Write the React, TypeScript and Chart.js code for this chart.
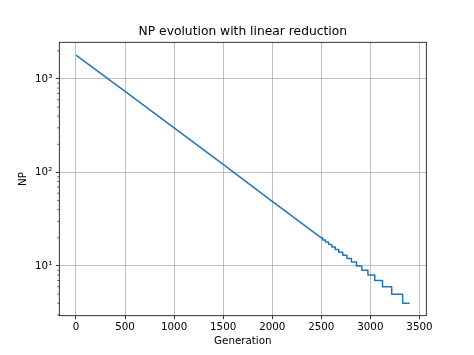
import React, { useEffect, useRef } from 'react';
import { Chart, registerables } from 'chart.js';

Chart.register(...registerables);

// Values
const smoothGenerations = [0, 500, 1000, 1500, 2000, 2500];
const smoothNP = [1800, 735, 300, 122, 49, 20];
const stepGenerations = [2514, 2543, 2574, 2607, 2642, 2678, 2718, 2761, 2807, 2858, 2913, 2975, 3045, 3124, 3217, 3329];
const stepNP = [19, 18, 17, 16, 15, 14, 13, 12, 11, 10, 9, 8, 7, 6, 5, 4];
const finalGeneration = 3400;

const xTickValues = [0, 500, 1000, 1500, 2000, 2500, 3000, 3500];
const yMajorTicks = [10, 100, 1000];
const yTickLabels = ['10¹', '10²', '10³'];
const yMinorTicks = [3, 4, 5, 6, 7, 8, 9, 20, 30, 40, 50, 60, 70, 80, 90, 200, 300, 400, 500, 600, 700, 800, 900, 2000];

const titleText = 'NP evolution with linear reduction';
const xTitle = 'Generation';
const yTitle = 'NP';

const FONT = '"DejaVu Sans", sans-serif';

export default function App() {
  const ref = useRef<HTMLCanvasElement | null>(null);

  useEffect(() => {
    document.body.style.margin = '0';
    const canvas = ref.current;
    if (!canvas) return;

    const points: { x: number; y: number }[] = smoothGenerations.map((g, i) => ({ x: g, y: smoothNP[i] }));
    let prev = smoothNP[smoothNP.length - 1];
    stepGenerations.forEach((g, i) => {
      points.push({ x: g, y: prev });
      points.push({ x: g, y: stepNP[i] });
      prev = stepNP[i];
    });
    points.push({ x: finalGeneration, y: prev });

    const framePlugin = {
      id: 'framePlugin',
      afterDraw(chart: any) {
        const { ctx, chartArea: a } = chart;
        const ys = chart.scales.y;
        ctx.save();
        // minor ticks
        ctx.strokeStyle = '#000';
        ctx.lineWidth = 0.6;
        yMinorTicks.forEach((v) => {
          const py = ys.getPixelForValue(v);
          if (py < a.top || py > a.bottom) return;
          ctx.beginPath();
          ctx.moveTo(a.left - 2, py);
          ctx.lineTo(a.left, py);
          ctx.stroke();
        });
        // frame
        ctx.lineWidth = 0.8;
        ctx.strokeRect(a.left, a.top, a.right - a.left, a.bottom - a.top);
        // texts
        ctx.fillStyle = '#000';
        ctx.textAlign = 'center';
        ctx.textBaseline = 'middle';
        ctx.font = `12.3px ${FONT}`;
        ctx.fillText(titleText, (a.left + a.right) / 2, 32.3);
        ctx.font = `10.3px ${FONT}`;
        ctx.fillText(xTitle, (a.left + a.right) / 2, 341.7);
        ctx.translate(23.3, (a.top + a.bottom) / 2);
        ctx.rotate(-Math.PI / 2);
        ctx.fillText(yTitle, 0, 0);
        ctx.restore();
      },
    };

    const chart = new Chart(canvas, {
      type: 'line',
      data: {
        datasets: [
          {
            data: points,
            borderColor: '#1f77b4',
            borderWidth: 1.5,
            pointRadius: 0,
            fill: false,
            tension: 0,
            borderJoinStyle: 'round',
          },
        ],
      },
      options: {
        animation: false,
        responsive: false,
        devicePixelRatio: 1,
        layout: { padding: { left: 0, top: 42.3, right: 47.7, bottom: 0 } },
        plugins: {
          legend: { display: false },
          tooltip: { enabled: false },
          title: { display: false },
        },
        scales: {
          x: {
            type: 'linear',
            min: -170,
            max: 3570,
            afterBuildTicks: (scale: any) => {
              scale.ticks = xTickValues.map((v) => ({ value: v }));
            },
            afterFit: (scale: any) => {
              scale.height = 39.3;
            },
            ticks: {
              color: '#000',
              font: { family: FONT, size: 10.3 },
              padding: 2,
              maxRotation: 0,
              autoSkip: false,
              callback: (v: any) => String(v),
            },
            grid: {
              color: '#b0b0b0',
              lineWidth: 0.8,
              tickColor: '#000',
              tickLength: 3.5,
              tickWidth: 0.8,
            },
            border: { display: false },
          },
          y: {
            type: 'logarithmic',
            min: 2.94,
            max: 2466,
            afterBuildTicks: (scale: any) => {
              scale.ticks = yMajorTicks.map((v) => ({ value: v }));
            },
            afterFit: (scale: any) => {
              scale.width = 59.3;
            },
            ticks: {
              color: '#000',
              font: { family: FONT, size: 10.3 },
              padding: 3.5,
              autoSkip: false,
              callback: (v: any) => {
                const i = yMajorTicks.indexOf(Number(v));
                return i >= 0 ? yTickLabels[i] : '';
              },
            },
            grid: {
              color: '#b0b0b0',
              lineWidth: 0.8,
              tickColor: '#000',
              tickLength: 3.5,
              tickWidth: 0.8,
            },
            border: { display: false },
          },
        },
      },
      plugins: [framePlugin],
    } as any);

    return () => chart.destroy();
  }, []);

  return (
    <div style={{ width: 474, height: 355, background: '#fff' }}>
      <canvas ref={ref} width={474} height={355} style={{ display: 'block', width: 474, height: 355 }} />
    </div>
  );
}
